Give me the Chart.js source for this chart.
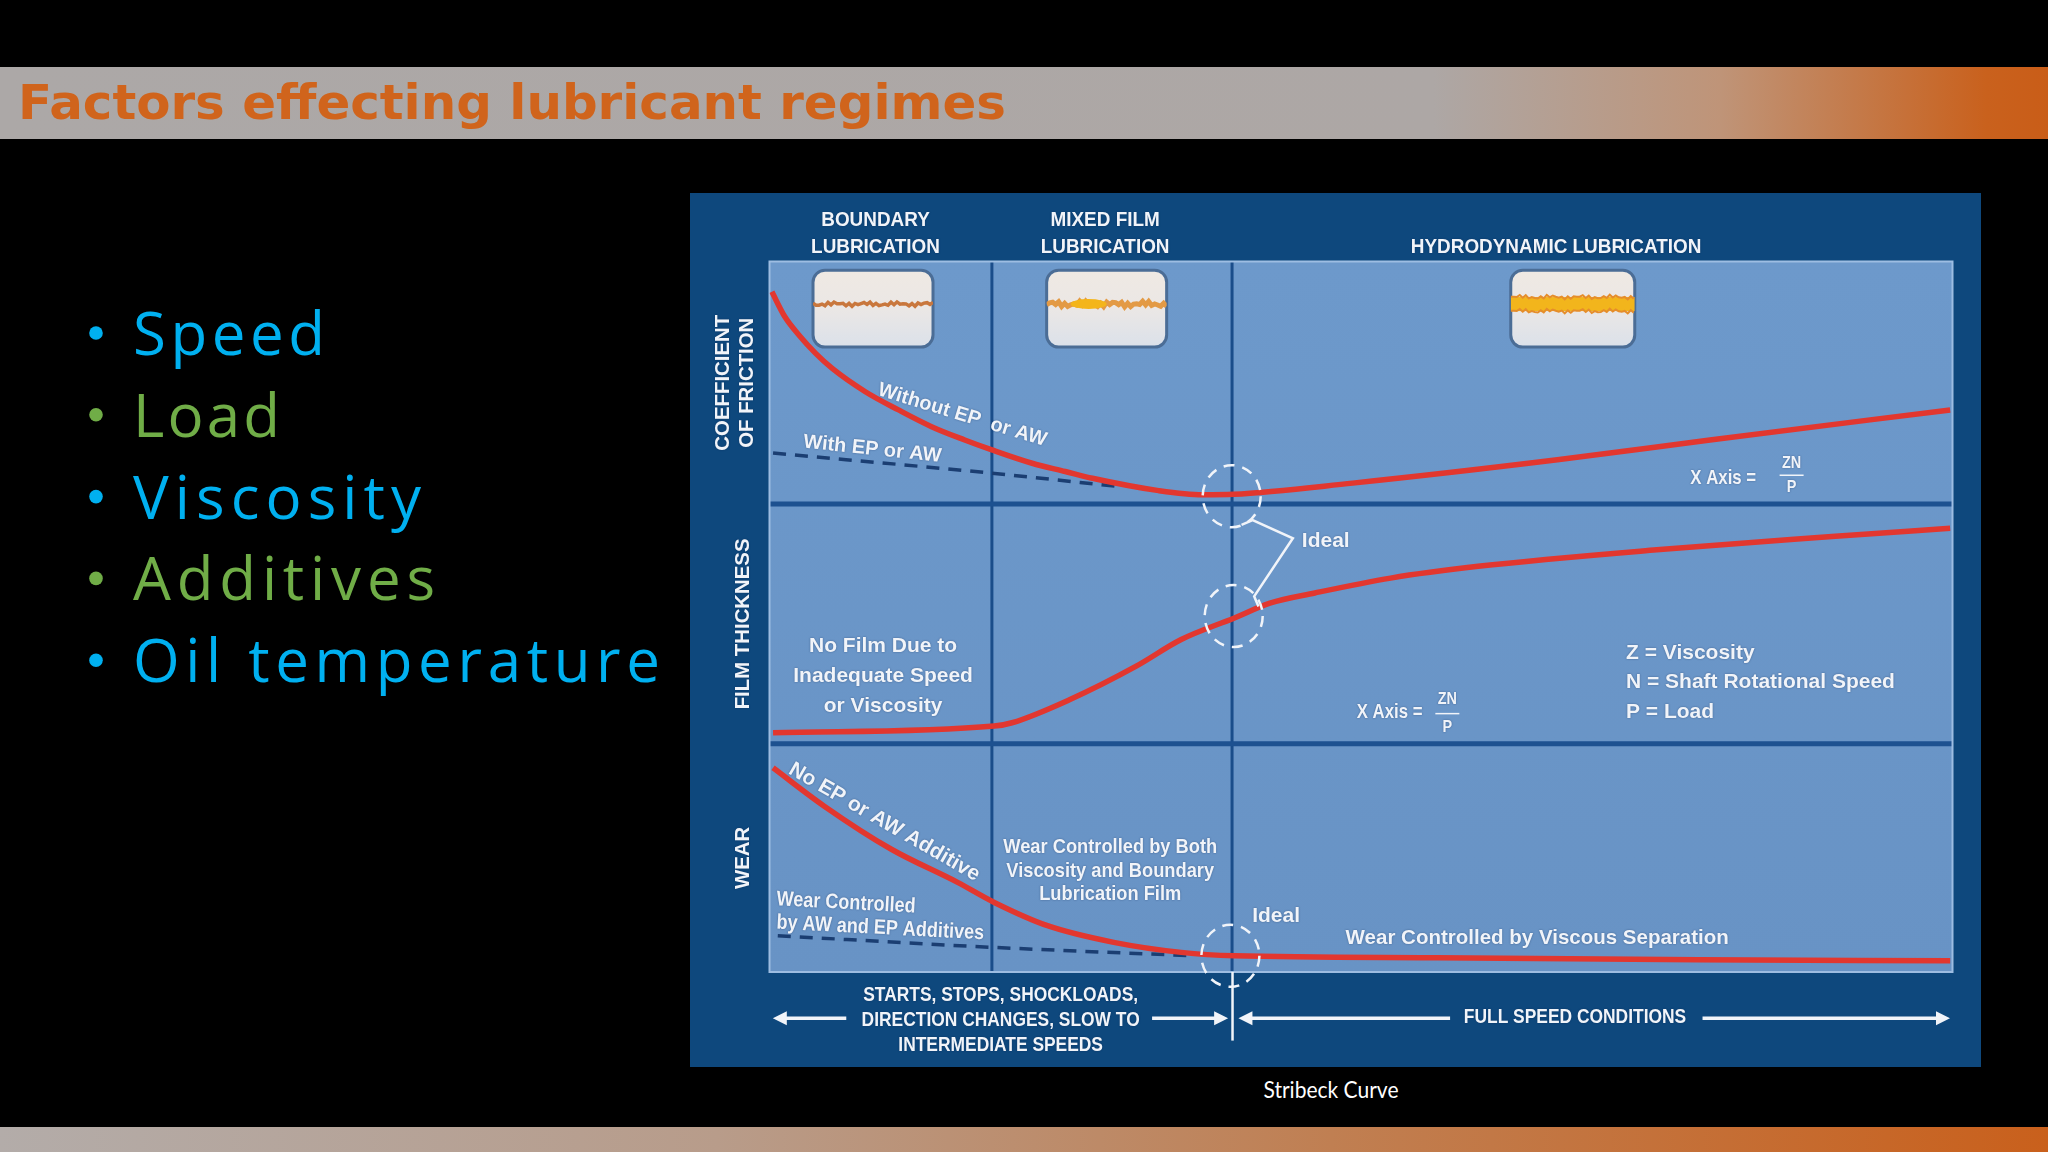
<!DOCTYPE html>
<html lang="en">
<head>
<meta charset="utf-8">
<title>Factors effecting lubricant regimes</title>
<script src="https://cdn.jsdelivr.net/npm/chart.js@4.4.1/dist/chart.umd.min.js"></script>
<style>
  html, body { margin: 0; padding: 0; background: #000; }
  body { position: relative; width: 2048px; height: 1152px; overflow: hidden; }
  #slide { position: absolute; left: 0; top: 0; }
  #stribeck-wrap { position: absolute; left: 690px; top: 193px; width: 1291px; height: 874px; }
</style>
</head>
<body>
<svg id="slide" width="2048" height="1152" viewBox="0 0 2048 1152">
  <defs>
    <linearGradient id="barTop" x1="0" x2="1" y1="0" y2="0">
      <stop offset="0" stop-color="#aca8a7"/>
      <stop offset="0.70" stop-color="#ada7a5"/>
      <stop offset="0.84" stop-color="#bf9478"/>
      <stop offset="0.97" stop-color="#c9611d"/>
      <stop offset="1" stop-color="#c95d18"/>
    </linearGradient>
    <linearGradient id="barBottom" x1="0" x2="1" y1="0" y2="0">
      <stop offset="0" stop-color="#b3aca9"/>
      <stop offset="0.35" stop-color="#b89c8a"/>
      <stop offset="0.65" stop-color="#c07f52"/>
      <stop offset="1" stop-color="#c9601c"/>
    </linearGradient>
  </defs>
  <rect x="0" y="67" width="2048" height="72" fill="url(#barTop)"/>
  <text x="18" y="119" font-family="DejaVu Sans" font-weight="bold" font-size="48" fill="#d0641c"
        textLength="988" lengthAdjust="spacingAndGlyphs">Factors effecting lubricant regimes</text>
  <g id="factors"></g>
  <text x="1331" y="1098" text-anchor="middle" font-family="Lato, 'Open Sans', sans-serif" font-size="23" fill="#ffffff"
        textLength="135" lengthAdjust="spacingAndGlyphs">Stribeck Curve</text>
  <rect x="0" y="1127" width="2048" height="25" fill="url(#barBottom)"/>
</svg>
<div id="stribeck-wrap"><canvas id="stribeck" width="1291" height="874"></canvas></div>
<script>
// lubrication regimes along the ZN/P axis (x in % of the axis)
const regimeBounds = [18.8, 39.1];
const regimeNames = [['BOUNDARY', 'LUBRICATION'], ['MIXED FILM', 'LUBRICATION'], ['HYDRODYNAMIC LUBRICATION']];
const panelNames = [['COEFFICIENT', 'OF FRICTION'], ['FILM THICKNESS'], ['WEAR']];

// each panel runs 0 (bottom) .. 1 (top)
const frictionX = [0.2, 1.3, 2.5, 3.9, 5.3, 8.1, 10.9, 13.7, 16.5, 18.8, 22.2, 25.0, 27.3, 32.9, 36.6, 39.2, 49.3, 66.6, 79.5, 99.8];
const frictionY = [0.875, 0.772, 0.696, 0.621, 0.559, 0.463, 0.388, 0.319, 0.264, 0.223, 0.168, 0.134, 0.106, 0.055, 0.038, 0.040, 0.086, 0.182, 0.264, 0.388];
const frictionEpX = [0.3, 18.8, 29.5];
const frictionEpY = [0.21, 0.127, 0.072];

const filmX = [0.3, 19.0, 20.5, 25.4, 31.0, 34.8, 39.3, 42.3, 46.1, 52.5, 59.9, 75.0, 90.1, 99.8];
const filmY = [0.046, 0.074, 0.088, 0.185, 0.324, 0.435, 0.525, 0.587, 0.629, 0.691, 0.740, 0.809, 0.865, 0.899];

const wearX = [0.3, 4.6, 10.3, 15.9, 19.0, 23.5, 29.1, 34.8, 39.3, 56.4, 78.5, 99.8];
const wearY = [0.895, 0.728, 0.538, 0.393, 0.305, 0.203, 0.130, 0.086, 0.071, 0.063, 0.054, 0.049];
const wearEpX = [0.7, 18.5, 35.9];
const wearEpY = [0.159, 0.109, 0.071];

// bullet list on the left of the slide
const factorNames = ['Speed', 'Load', 'Viscosity', 'Additives', 'Oil temperature'];

const RED = '#e2372f';
const NAVY = '#1b3e72';
const INK = '#f1f4f9';

// ---- slide bullets ----
const factorColors = ['#00b0f0', '#70ad47', '#00b0f0', '#70ad47', '#00b0f0'];
const factorWidths = [192, 147, 288, 302, 527];
const svgNS = 'http://www.w3.org/2000/svg';
const factorGroup = document.getElementById('factors');
factorNames.forEach((name, i) => {
    const base = 355 + i * 81.8;
    const dot = document.createElementNS(svgNS, 'circle');
    dot.setAttribute('cx', 96);
    dot.setAttribute('cy', base - 22);
    dot.setAttribute('r', 6.8);
    dot.setAttribute('fill', factorColors[i]);
    factorGroup.appendChild(dot);
    const t = document.createElementNS(svgNS, 'text');
    t.setAttribute('x', 133);
    t.setAttribute('y', base);
    t.setAttribute('font-family', '"Open Sans", sans-serif');
    t.setAttribute('font-size', 60);
    t.setAttribute('fill', factorColors[i]);
    t.setAttribute('textLength', factorWidths[i]);
    t.setAttribute('lengthAdjust', 'spacing');
    t.textContent = name;
    factorGroup.appendChild(t);
});

// ---- helpers ----
const pts = (xs, ys) => xs.map((x, i) => ({ x: x, y: ys[i] }));

function label(ctx, text, x, y, o = {}) {
    ctx.save();
    ctx.translate(x, y);
    if (o.rotate) ctx.rotate(o.rotate * Math.PI / 180);
    ctx.scale(o.squeeze || 1, 1);
    ctx.font = `bold ${o.size || 21}px "Liberation Sans", Arial, sans-serif`;
    ctx.fillStyle = INK;
    ctx.textAlign = o.align || 'center';
    ctx.textBaseline = 'middle';
    ctx.shadowColor = 'rgba(10,30,70,0.45)';
    ctx.shadowBlur = 2;
    ctx.fillText(text, 0, 0);
    ctx.restore();
}

function wobble(ctx, x0, x1, y, amp) {
    ctx.beginPath();
    for (let x = x0; x <= x1; x += 3) {
        const dy = amp * (Math.sin(x * 0.9) + 0.6 * Math.sin(x * 2.3));
        if (x === x0) ctx.moveTo(x, y + dy); else ctx.lineTo(x, y + dy);
    }
    ctx.stroke();
}

function drawThumb(ctx, cx, top, bottom, w, kind) {
    const x = cx - w / 2, h = bottom - top;
    ctx.save();
    ctx.beginPath();
    ctx.roundRect(x, top, w, h, 12);
    const g = ctx.createLinearGradient(0, top, 0, bottom);
    g.addColorStop(0, '#efe9e3');
    g.addColorStop(0.5, '#ebe7e5');
    g.addColorStop(1, '#dbe1ea');
    ctx.fillStyle = g;
    ctx.fill();
    ctx.lineWidth = 3;
    ctx.strokeStyle = '#4b6d96';
    ctx.stroke();
    ctx.clip();
    const my = top + h * 0.44;
    if (kind === 'hydro') {
        ctx.fillStyle = '#f2b51c';
        ctx.fillRect(x, my - 7, w, 14);
        ctx.strokeStyle = '#e58d2b';
        ctx.lineWidth = 2;
        wobble(ctx, x, x + w, my - 7, 1.5);
        wobble(ctx, x, x + w, my + 7, 1.5);
    } else if (kind === 'mixed') {
        ctx.strokeStyle = '#e39a45';
        ctx.lineWidth = 5;
        wobble(ctx, x, x + w, my, 2);
        ctx.fillStyle = '#f4b51a';
        ctx.beginPath();
        ctx.ellipse(x + w * 0.35, my, 18, 5, 0, 0, 2 * Math.PI);
        ctx.fill();
    } else {
        ctx.strokeStyle = '#c9773d';
        ctx.lineWidth = 3.5;
        wobble(ctx, x, x + w, my, 1.5);
    }
    ctx.restore();
}

function arrow(ctx, x0, x1, y) {
    const dir = Math.sign(x1 - x0);
    ctx.beginPath();
    ctx.moveTo(x0, y);
    ctx.lineTo(x1 - dir * 8, y);
    ctx.stroke();
    ctx.beginPath();
    ctx.moveTo(x1, y);
    ctx.lineTo(x1 - dir * 14, y - 7);
    ctx.lineTo(x1 - dir * 14, y + 7);
    ctx.closePath();
    ctx.fill();
}

// ---- annotation layout (x in %, y in panel units) ----
const notes = [
    { text: 'Without EP  or AW', x: 16.3, y: 0.366, axis: 'yFriction', rotate: 17, size: 20 },
    { text: 'With EP or AW', x: 8.7, y: 0.226, axis: 'yFriction', rotate: 6, size: 20 },
    { text: 'No Film Due to', x: 9.6, y: 0.408, axis: 'yFilm' },
    { text: 'Inadequate Speed', x: 9.6, y: 0.283, axis: 'yFilm' },
    { text: 'or Viscosity', x: 9.6, y: 0.158, axis: 'yFilm' },
    { text: 'Z = Viscosity', x: 72.4, y: 0.379, axis: 'yFilm', align: 'left' },
    { text: 'N = Shaft Rotational Speed', x: 72.4, y: 0.257, axis: 'yFilm', align: 'left' },
    { text: 'P = Load', x: 72.4, y: 0.130, axis: 'yFilm', align: 'left' },
    { text: 'Ideal', x: 45.0, y: 0.844, axis: 'yFilm', align: 'left' },
    { text: 'No EP or AW Additive', x: 9.7, y: 0.657, axis: 'yWear', rotate: 30 },
    { text: 'Wear Controlled by Both', x: 28.8, y: 0.546, axis: 'yWear', squeeze: 0.87 },
    { text: 'Viscosity and Boundary', x: 28.8, y: 0.443, axis: 'yWear', squeeze: 0.87 },
    { text: 'Lubrication Film', x: 28.8, y: 0.341, axis: 'yWear', squeeze: 0.87 },
    { text: 'Wear Controlled', x: 0.6, y: 0.318, axis: 'yWear', align: 'left', rotate: 3, squeeze: 0.86 },
    { text: 'by AW and EP Additives', x: 0.6, y: 0.216, axis: 'yWear', align: 'left', rotate: 3, squeeze: 0.86 },
    { text: 'Ideal', x: 40.8, y: 0.246, axis: 'yWear', align: 'left' },
    { text: 'Wear Controlled by Viscous Separation', x: 48.7, y: 0.147, axis: 'yWear', align: 'left', size: 20.5 },
];
const formulas = [
    { x: 83.4, y: 0.106, fx: 86.4, num: 0.167, den: 0.07, axis: 'yFriction' },
    { x: 55.2, y: 0.130, fx: 57.3, num: 0.185, den: 0.067, axis: 'yFilm' },
];
const ideals = [
    { x: 39.07, y: 0.032, axis: 'yFriction' },
    { x: 39.24, y: 0.533, axis: 'yFilm' },
    { x: 38.96, y: 0.071, axis: 'yWear' },
];
const bracket = { xs: [39.9, 40.84, 44.24, 40.97, 41.33], ys: [0.913, 0.933, 0.857, 0.615, 0.573], axis: 'yFilm' };
const thumbs = [
    { x: 8.75, w: 120, kind: 'boundary' },
    { x: 28.5, w: 120, kind: 'mixed' },
    { x: 67.9, w: 124, kind: 'hydro' },
];
const headerX = [8.96, 28.37, 66.49];

const stribeckFrame = {
    id: 'stribeckFrame',
    beforeDraw(chart) {
        const { ctx, chartArea: a, width, height } = chart;
        ctx.save();
        ctx.fillStyle = '#0e487d';
        ctx.fillRect(0, 0, width, height);
        const g = ctx.createLinearGradient(0, a.top, 0, a.bottom);
        g.addColorStop(0, '#6d99cb');
        g.addColorStop(1, '#6893c5');
        ctx.fillStyle = g;
        ctx.fillRect(a.left, a.top, a.width, a.height);
        ctx.restore();
    },
    beforeDatasetsDraw(chart) {
        const { ctx, chartArea: a, scales } = chart;
        const xs = scales.x, yf = scales.yFriction;
        thumbs.forEach(t => drawThumb(ctx, xs.getPixelForValue(t.x), yf.getPixelForValue(0.964), yf.getPixelForValue(0.647), t.w, t.kind));
        ctx.save();
        ctx.strokeStyle = '#1a4d8a';
        ctx.lineWidth = 3;
        regimeBounds.forEach(v => {
            const px = xs.getPixelForValue(v);
            ctx.beginPath();
            ctx.moveTo(px, a.top);
            ctx.lineTo(px, a.bottom);
            ctx.stroke();
        });
        ctx.strokeStyle = '#1d5190';
        ctx.lineWidth = 5;
        [scales.yFriction.bottom, scales.yFilm.bottom].forEach(py => {
            ctx.beginPath();
            ctx.moveTo(a.left, py);
            ctx.lineTo(a.right, py);
            ctx.stroke();
        });
        ctx.strokeStyle = '#9dbde2';
        ctx.lineWidth = 2;
        ctx.strokeRect(a.left, a.top, a.width, a.height);
        ctx.restore();
    },
    afterDraw(chart) {
        const { ctx, chartArea: a, scales } = chart;
        const xs = scales.x;
        const X = v => xs.getPixelForValue(v);

        // regime headers
        regimeNames.forEach((lines, i) => {
            lines.forEach((s, j) => {
                const y = lines.length === 2 ? a.top + (j === 0 ? -40.8 : -14.6) : a.top - 14.1;
                label(ctx, s, X(headerX[i]), y, { squeeze: 0.9 });
            });
        });
        // panel titles, rotated on the left side
        const panels = [scales.yFriction, scales.yFilm, scales.yWear];
        panelNames.forEach((lines, i) => {
            const cy = (panels[i].top + panels[i].bottom) / 2;
            const offs = lines.length === 2 ? [-46.6, -22.4] : [-26];
            lines.forEach((s, j) => label(ctx, s, a.left + offs[j], cy, { rotate: -90, squeeze: 0.97 }));
        });

        // text notes inside the panels
        notes.forEach(n => label(ctx, n.text, X(n.x), scales[n.axis].getPixelForValue(n.y), n));
        formulas.forEach(f => {
            const sc = scales[f.axis];
            label(ctx, 'X Axis =', X(f.x), sc.getPixelForValue(f.y), { align: 'right', squeeze: 0.8 });
            const yn = sc.getPixelForValue(f.num), yd = sc.getPixelForValue(f.den);
            label(ctx, 'ZN', X(f.fx), yn, { size: 17, squeeze: 0.85 });
            label(ctx, 'P', X(f.fx), yd, { size: 17, squeeze: 0.85 });
            ctx.save();
            ctx.strokeStyle = INK;
            ctx.lineWidth = 1.5;
            ctx.beginPath();
            ctx.moveTo(X(f.fx) - 12, (yn + yd) / 2);
            ctx.lineTo(X(f.fx) + 12, (yn + yd) / 2);
            ctx.stroke();
            ctx.restore();
        });

        // "Ideal" dashed rings and the bracket
        ctx.save();
        ctx.strokeStyle = INK;
        ctx.lineWidth = 2.5;
        ctx.setLineDash([11, 8]);
        ideals.forEach(c => {
            ctx.beginPath();
            ctx.ellipse(X(c.x), scales[c.axis].getPixelForValue(c.y), 29, 31, 0, 0, 2 * Math.PI);
            ctx.stroke();
        });
        ctx.setLineDash([]);
        ctx.beginPath();
        bracket.xs.forEach((bx, i) => {
            const px = X(bx), py = scales[bracket.axis].getPixelForValue(bracket.ys[i]);
            if (i === 0) ctx.moveTo(px, py); else ctx.lineTo(px, py);
        });
        ctx.stroke();

        // speed-range arrows under the plot
        const ay = a.bottom + 46.3;
        ctx.fillStyle = INK;
        ctx.lineWidth = 3.5;
        arrow(ctx, X(6.49), X(0.28), ay);
        arrow(ctx, X(32.34), X(38.77), ay);
        arrow(ctx, X(57.53), X(39.64), ay);
        arrow(ctx, X(78.87), X(99.79), ay);
        ctx.lineWidth = 2.5;
        ctx.beginPath();
        ctx.moveTo(X(39.14), a.bottom);
        ctx.lineTo(X(39.14), a.bottom + 68.6);
        ctx.stroke();
        ctx.restore();
        label(ctx, 'STARTS, STOPS, SHOCKLOADS,', X(19.54), a.bottom + 23.6, { size: 20, squeeze: 0.87 });
        label(ctx, 'DIRECTION CHANGES, SLOW TO', X(19.54), a.bottom + 48.6, { size: 20, squeeze: 0.87 });
        label(ctx, 'INTERMEDIATE SPEEDS', X(19.54), a.bottom + 73.6, { size: 20, squeeze: 0.87 });
        label(ctx, 'FULL SPEED CONDITIONS', X(68.09), a.bottom + 45.2, { size: 20, squeeze: 0.87 });
    }
};

const ctx = document.getElementById('stribeck').getContext('2d');
new Chart(ctx, {
    type: 'line',
    data: {
        datasets: [
            {
                label: 'Without EP or AW',
                data: pts(frictionX, frictionY),
                yAxisID: 'yFriction',
                borderColor: RED,
                borderWidth: 5.5,
            },
            {
                label: 'With EP or AW',
                data: pts(frictionEpX, frictionEpY),
                yAxisID: 'yFriction',
                borderColor: NAVY,
                borderWidth: 3.5,
                borderDash: [13, 9],
            },
            {
                label: 'Film thickness',
                data: pts(filmX, filmY),
                yAxisID: 'yFilm',
                borderColor: RED,
                borderWidth: 5.5,
            },
            {
                label: 'No EP or AW Additive',
                data: pts(wearX, wearY),
                yAxisID: 'yWear',
                borderColor: RED,
                borderWidth: 5.5,
            },
            {
                label: 'Wear controlled by AW and EP Additives',
                data: pts(wearEpX, wearEpY),
                yAxisID: 'yWear',
                borderColor: NAVY,
                borderWidth: 3.5,
                borderDash: [13, 9],
            },
        ],
    },
    options: {
        responsive: false,
        animation: false,
        elements: {
            point: { radius: 0 },
            line: { cubicInterpolationMode: 'monotone', fill: false },
        },
        layout: { padding: { left: 79.5, top: 68.5, right: 28.5, bottom: 95 } },
        scales: {
            x: { type: 'linear', min: 0, max: 100, display: false },
            yFriction: { type: 'linear', min: 0, max: 1, display: false, position: 'left', stack: 'panels', stackWeight: 186, weight: 3 },
            yFilm: { type: 'linear', min: 0, max: 1, display: false, position: 'left', stack: 'panels', stackWeight: 184, weight: 2 },
            yWear: { type: 'linear', min: 0, max: 1, display: false, position: 'left', stack: 'panels', stackWeight: 175, weight: 1 },
        },
        plugins: {
            legend: { display: false },
            tooltip: { enabled: false },
        },
    },
    plugins: [stribeckFrame],
});
</script>
</body>
</html>
